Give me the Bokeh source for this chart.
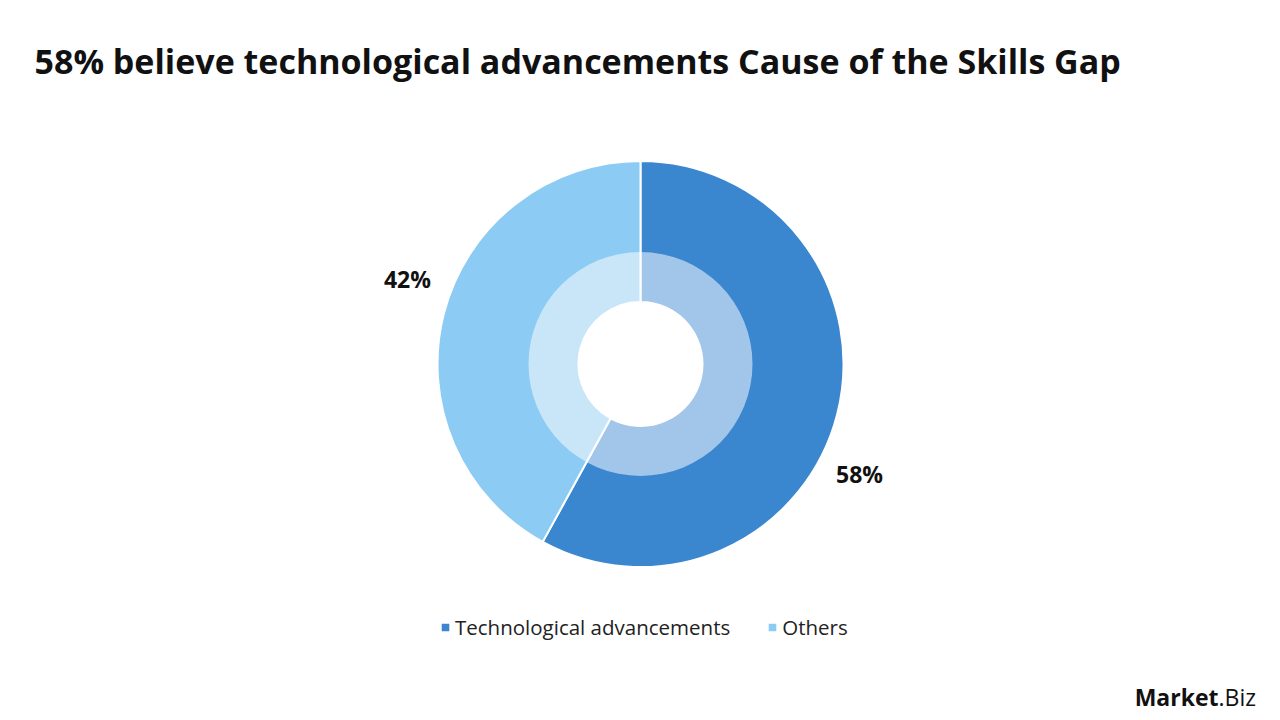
import math
from bokeh.plotting import figure
from bokeh.models import Range1d, Legend, LegendItem, ColumnDataSource
from bokeh.core.properties import value
from bokeh.embed import file_html
from bokeh.resources import INLINE

title_text = "58% believe technological advancements Cause of the Skills Gap"
categories = ["Technological advancements", "Others"]
shares = [58, 42]
colors = ["#3a87d0", "#8ccbf3"]

W, H = 1264, 712
p = figure(width=W, height=H, output_backend="svg", toolbar_location=None,
           x_range=Range1d(0, W), y_range=Range1d(720 - H, 720),
           min_border=0, outline_line_color=None)
p.axis.visible = False
p.grid.visible = False
p.background_fill_color = "white"

cx, cy = 640, 720 - 363.5
r_out, r_mid, r_in = 203, 112, 62

total = sum(shares)
starts, ends, mids = [], [], []
acc = 0.0
for s in shares:
    a0 = math.pi / 2 - 2 * math.pi * acc / total
    a1 = math.pi / 2 - 2 * math.pi * (acc + s) / total
    starts.append(a0)
    ends.append(a1)
    mids.append((a0 + a1) / 2)
    acc += s

src = ColumnDataSource(dict(start=starts, end=ends, color=colors, cat=categories))
wedges = p.annular_wedge(x=cx, y=cy, inner_radius=r_in, outer_radius=r_out,
                         start_angle="start", end_angle="end", direction="clock",
                         fill_color="color", line_color="white", line_width=2, source=src)
# lighter inner ring
p.annulus(x=cx, y=cy, inner_radius=r_in, outer_radius=r_mid,
          fill_color="white", fill_alpha=0.53, line_color=None)

# percentage labels outside
lab_r = 246
shift = -0.154
off_x, off_y = -7, -12.5
lx = [cx + off_x + lab_r * math.cos(m + shift) for m in mids]
ly = [cy + off_y + lab_r * math.sin(m + shift) for m in mids]
p.text(x=lx, y=ly, text=[f"{s}%" for s in shares], text_align="center",
       text_baseline="middle", text_font=value("Open Sans"), text_font_style="bold",
       text_font_size="23px", text_color="#111111")

# title
p.text(x=[34], y=[720 - 60], text=[title_text], text_align="left", text_baseline="middle",
       text_font=value("Open Sans"), text_font_style="bold", text_font_size="34px",
       text_color="#111111")

# logo
p.text(x=[1218], y=[720 - 696], text=["Market"], text_align="right", text_baseline="alphabetic",
       text_font=value("Open Sans"), text_font_style="bold", text_font_size="23px",
       text_color="#111111")
p.text(x=[1218], y=[720 - 696], text=[".Biz"], text_align="left", text_baseline="alphabetic",
       text_font=value("Open Sans"), text_font_style="normal", text_font_size="23px",
       text_color="#111111")

# legend
items = [LegendItem(label=c, renderers=[wedges], index=i) for i, c in enumerate(categories)]
legend = Legend(items=items, orientation="horizontal", location=(439, 71),
                glyph_width=12, glyph_height=12, label_standoff=4, spacing=36,
                padding=0, margin=0, border_line_color=None, background_fill_alpha=0,
                label_text_font="Open Sans", label_text_font_size="20.5px",
                label_text_color="#222222")
p.add_layout(legend, "center")

open("out.html", "w").write(file_html(p, INLINE))
